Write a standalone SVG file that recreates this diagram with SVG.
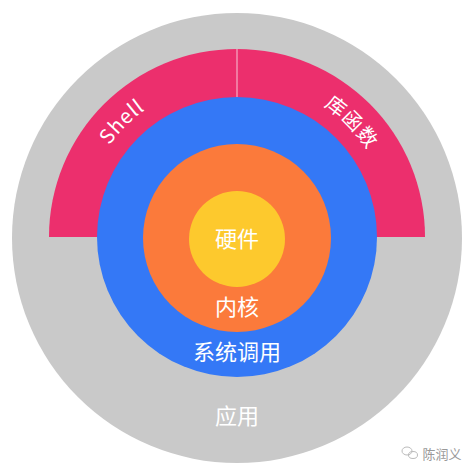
<svg xmlns="http://www.w3.org/2000/svg" width="474" height="474" viewBox="0 0 474 474">
<style>
.t{font-family:"Noto Sans CJK SC","Noto Sans",sans-serif;fill:#ffffff;text-anchor:middle;dominant-baseline:central;}
</style>
<defs>
<path id="arc" d="M 80 237 A 157 157 0 0 1 394 237"/>
</defs>
<rect width="474" height="474" fill="#ffffff"/>
<g id="app">
<circle cx="237" cy="238" r="225" fill="#c9c9c9"/>
<text class="t" x="237" y="414" font-size="22">应用</text>
</g>
<g id="shell">
<path d="M 49 237 A 188 188 0 0 1 237 49 L 237 237 Z" fill="#ec2f6d"/>
<text class="t" font-size="20" letter-spacing="1" style="dominant-baseline:auto"><textPath href="#arc" startOffset="25%">Shell</textPath></text>
</g>
<g id="lib">
<path d="M 237 49 A 188 188 0 0 1 425 237 L 237 237 Z" fill="#ec2f6d"/>
<text class="t" font-size="20" letter-spacing="1" style="dominant-baseline:auto"><textPath href="#arc" startOffset="75%">库函数</textPath></text>
</g>
<g id="connectors">
<line x1="237" y1="49" x2="237" y2="98" stroke="#f6c6d6" stroke-width="1"/>
</g>
<g id="syscall">
<circle cx="237" cy="237" r="140" fill="#3478f6"/>
<text class="t" x="237" y="350" font-size="22">系统调用</text>
</g>
<g id="kernel">
<circle cx="237" cy="238" r="94" fill="#fb7a3b"/>
<text class="t" x="237" y="305" font-size="22">内核</text>
</g>
<g id="hardware">
<circle cx="237" cy="239" r="48" fill="#fdc92d"/>
<text class="t" x="237" y="237" font-size="22">硬件</text>
</g>
<g id="watermark">
<ellipse cx="407" cy="451" rx="5" ry="4" fill="none" stroke="#bbbbbb" stroke-width="1"/>
<ellipse cx="413" cy="455" rx="4.5" ry="3.5" fill="none" stroke="#bbbbbb" stroke-width="1"/>
<text x="442" y="453" font-size="13" font-family="Noto Sans CJK SC, sans-serif" fill="#999999" text-anchor="middle" dominant-baseline="central">陈润义</text>
</g>
</svg>
